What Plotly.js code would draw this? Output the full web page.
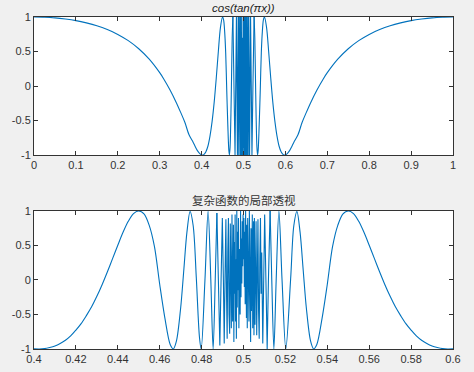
<!DOCTYPE html>
<html>
<head>
<meta charset="utf-8">
<script src="https://cdn.plot.ly/plotly-3.0.1.min.js"></script>
<style>html,body{margin:0;padding:0;background:#f0f0f0;}</style>
</head>
<body>
<div id="chart" style="width:474px;height:372px;"></div>
<script>
// Top subplot: cos(tan(pi x)) on [0, 1]
const topX = [0,0.025,0.05,0.075,0.1,0.125,0.15,0.175,0.2,0.225,0.25,0.275,0.3,0.31,0.325,0.34,0.35,0.36,0.37,0.38,0.385,0.39,0.395,0.4,0.402,0.405,0.41,0.415,0.42,0.425,0.43,0.435,0.44,0.445,0.45,0.4525,0.455,0.4575,0.46,0.4625,0.465,0.4664,0.468,0.47,0.4715,0.473,0.4747,
  0.4775,0.4798,0.4831,0.4855,0.4873,0.4887,0.4899,0.4908,0.4916,0.4922,0.4928,0.4933,0.4937,0.4940,0.4944,0.4947,0.4949,
  0.4952,0.4955,0.4958,0.4961,0.4964,0.4967,0.4970,0.4973,0.4976,0.4979,0.4982,0.4985,0.4988,0.4991,0.4994,0.4997,0.5000,0.5003,0.5006,0.5009,0.5012,0.5015,0.5018,0.5021,0.5024,0.5027,0.5030,0.5033,0.5036,0.5039,0.5042,0.5045,0.5048,
  0.5051,0.5053,0.5056,0.5060,0.5063,0.5067,0.5072,0.5078,0.5084,0.5092,0.5101,0.5113,0.5127,0.5145,0.5169,0.5202,0.5225,
  0.5253,0.527,0.5285,0.53,0.532,0.5336,0.535,0.5375,0.54,0.5425,0.545,0.5475,0.55,0.555,0.56,0.565,0.57,0.575,0.58,0.585,0.59,0.595,0.598,0.6,0.605,0.61,0.615,0.62,0.63,0.64,0.65,0.66,0.675,0.69,0.7,0.725,0.75,0.775,0.8,0.825,0.85,0.875,0.9,0.925,0.95,0.975,1];
const topY = [1,0.997,0.988,0.971,0.948,0.915,0.873,0.818,0.748,0.657,0.540,0.389,0.193,0.099,-0.061,-0.245,-0.382,-0.526,-0.707,-0.817,-0.880,-0.936,-0.975,-0.998,-1,-0.994,-0.955,-0.873,-0.726,-0.516,-0.237,0.116,0.504,0.850,1,0.958,0.792,0.483,-0.062,-0.556,-0.934,-1,-0.883,-0.405,0.142,0.693,1,
  0,-1,1,-1,1,-1,1,-1,1,-1,1,-1,1,-1,1,-1,1,
  -1,1,-0.8,1,-1,0.7,-0.6,1,-0.9,0.5,-1,0.9,-0.4,1,-0.7,0.6,-0.5,1,-0.9,0.4,-1,0.95,-0.6,1,-0.85,0.7,-1,1,-0.7,0.9,-1,1,-1,
  1,-1,1,-1,1,-1,1,-1,1,-1,1,-1,1,-1,1,-1,0,
  1,0.693,0.142,-0.405,-0.883,-1,-0.934,-0.556,-0.062,0.483,0.792,0.958,1,0.850,0.504,0.116,-0.237,-0.516,-0.726,-0.873,-0.955,-0.994,-1,-0.998,-0.975,-0.936,-0.880,-0.817,-0.707,-0.526,-0.382,-0.245,-0.061,0.099,0.193,0.389,0.540,0.657,0.748,0.818,0.873,0.915,0.948,0.971,0.988,0.997,1];

// Bottom subplot: the same function, zoomed on [0.4, 0.6]
const botX = [0.400,0.4025,0.405,0.4075,0.410,0.4125,0.415,0.4175,0.420,0.4225,0.425,0.4275,0.430,0.4325,0.435,0.4375,0.440,0.4425,0.445,0.4475,0.450,0.4525,0.455,0.4575,0.460,0.4625,0.465,0.4665,0.468,0.470,0.4715,0.473,0.4745,0.476,0.4775,0.479,0.4798,
  0.4816,0.4831,0.4844,0.4855,0.4865,0.4873,0.4881,0.4887,0.4893,0.4899,0.4904,
  0.4908,0.4913,0.4916,0.4919,0.4922,0.4925,0.4928,0.4931,0.4934,0.4937,0.4940,0.4942,0.4945,0.4948,
  0.4950,0.4952,0.4954,0.4956,0.4958,0.4960,0.4962,0.4964,0.4966,0.4968,0.4970,0.4972,0.4974,0.4976,0.4978,0.4980,0.4982,0.4984,0.4986,0.4988,0.4990,0.4992,0.4994,0.4996,0.4998,
  0.5000,0.5002,0.5004,0.5006,0.5008,0.5010,0.5012,0.5014,0.5016,0.5018,0.5020,0.5022,0.5024,0.5026,0.5028,0.5030,0.5032,0.5034,0.5036,0.5038,0.5040,0.5042,0.5044,0.5046,0.5048,0.5050,
  0.5052,0.5055,0.5058,0.5060,0.5063,0.5066,0.5069,0.5072,0.5075,0.5078,0.5081,0.5084,0.5087,0.5092,
  0.5096,0.5101,0.5107,0.5113,0.5119,0.5127,0.5135,0.5145,0.5156,0.5169,0.5184,0.5202,
  0.5225,0.524,0.5255,0.527,0.5285,0.530,0.532,0.5335,0.535,0.5375,0.540,0.5425,0.545,0.5475,0.550,0.5525,0.555,0.5575,0.560,0.5625,0.565,0.5675,0.570,0.5725,0.575,0.5775,0.580,0.5825,0.585,0.5875,0.590,0.5925,0.595,0.5975,0.600];
const botY = [-0.998,-1,-0.994,-0.978,-0.955,-0.919,-0.873,-0.810,-0.726,-0.632,-0.516,-0.389,-0.237,-0.068,0.116,0.309,0.504,0.691,0.850,0.962,1,0.958,0.792,0.483,-0.062,-0.556,-0.934,-0.999,-0.883,-0.405,0.142,0.693,0.994,0.783,0.017,-0.838,-1,
  0,1,0,-1,0,0.97,0,-0.95,0,0.9,0,
  -0.92,0.3,0.88,-0.2,-0.85,0.4,0.9,-0.5,-0.78,0.82,0.1,-0.7,0.95,-0.6,
  -0.35,0.8,-0.9,0.55,-0.2,0.95,-0.6,0.3,-0.85,1,-0.4,0.7,-0.15,0.9,-0.7,0.45,0.05,-0.5,1,-0.25,0.6,-0.05,0.85,0.2,0.95,
  0.3,0.9,-0.1,0.7,-0.35,1,0,-0.55,0.8,-0.7,0.9,-0.2,0.5,-0.6,1,-0.3,0.65,-0.9,0.75,-0.45,0.25,0.95,-0.7,0.2,0.85,-0.8,
  0.9,-0.65,0.2,0.85,-0.8,0.5,0.88,-0.45,-0.85,0.3,0.9,-0.2,0.4,-0.92,
  0,0.95,0,-1,0,1,0,-1,0,1,0,-1,
  0.017,0.783,0.994,0.693,0.142,-0.405,-0.883,-0.999,-0.934,-0.556,-0.062,0.483,0.792,0.958,1,0.962,0.850,0.691,0.504,0.309,0.116,-0.068,-0.237,-0.389,-0.516,-0.632,-0.726,-0.810,-0.873,-0.919,-0.955,-0.978,-0.994,-1,-0.998];

const topTicks = [0,0.1,0.2,0.3,0.4,0.5,0.6,0.7,0.8,0.9,1];
const topTickText = ['0','0.1','0.2','0.3','0.4','0.5','0.6','0.7','0.8','0.9','1'];
const botTicks = [0.4,0.42,0.44,0.46,0.48,0.5,0.52,0.54,0.56,0.58,0.6];
const botTickText = ['0.4','0.42','0.44','0.46','0.48','0.5','0.52','0.54','0.56','0.58','0.6'];
const yTicks = [-1,-0.5,0,0.5,1];
const yTickText = ['-1','-0.5','0','0.5','1'];
const titles = ['cos(tan(πx))', '复杂函数的局部透视'];

// split each series: smooth outer parts drawn as splines, the dense middle as straight segments
function segments(xs, ys, lo, hi, xa, ya){
  const parts = [[],[],[]];
  xs.forEach((x,i)=>{
    if (x <= lo) parts[0].push(i);
    if (x >= lo && x <= hi) parts[1].push(i);
    if (x >= hi) parts[2].push(i);
  });
  return parts.map((idx,k)=>({
    x: idx.map(i=>xs[i]), y: idx.map(i=>ys[i]),
    type:'scatter', mode:'lines', xaxis:xa, yaxis:ya, hoverinfo:'skip',
    line:{color:'#0072BD', width:1.1, shape: k===1 ? 'linear' : 'spline', smoothing:0.9}
  }));
}
const traces = [].concat(
  segments(topX, topY, 0.4747, 0.5253, 'x', 'y'),
  segments(botX, botY, 0.4873, 0.5127, 'x2', 'y2')
);

const tickFont = {family:'Liberation Sans, Arial, sans-serif', size:11, color:'#333333'};
function axis(extra){
  return Object.assign({
    showgrid:false, zeroline:false, showline:true, linecolor:'#333333', linewidth:1,
    mirror:'ticks', ticks:'inside', ticklen:4, tickwidth:1, tickcolor:'#333333',
    tickfont:tickFont, fixedrange:true
  }, extra);
}

const layout = {
  width:474, height:372,
  paper_bgcolor:'#f0f0f0', plot_bgcolor:'#ffffff',
  margin:{l:34, r:21, t:17, b:23},
  showlegend:false,
  xaxis: axis({range:[0,1], tickvals:topTicks, ticktext:topTickText, domain:[0,1], anchor:'y'}),
  yaxis: axis({range:[-1,1], tickvals:yTicks, ticktext:yTickText, domain:[0.5843,1], anchor:'x'}),
  xaxis2: axis({range:[0.4,0.6], tickvals:botTicks, ticktext:botTickText, domain:[0,1], anchor:'y2'}),
  yaxis2: axis({range:[-1,1], tickvals:yTicks, ticktext:yTickText, domain:[0,0.4157], anchor:'x2'}),
  annotations:[
    {text:'<i>'+titles[0]+'</i>', xref:'paper', yref:'paper', x:0.5, y:1, yshift:1, xanchor:'center', yanchor:'bottom', showarrow:false,
     font:{family:'Liberation Sans, Arial, sans-serif', size:11.5, color:'#222222'}},
    {text:titles[1], xref:'paper', yref:'paper', x:0.5, y:0.4157, yshift:1, xanchor:'center', yanchor:'bottom', showarrow:false,
     font:{family:'Noto Sans CJK SC, sans-serif', size:11.5, color:'#333333'}}
  ]
};

Plotly.newPlot('chart', traces, layout, {staticPlot:true, displayModeBar:false});
</script>
</body>
</html>
